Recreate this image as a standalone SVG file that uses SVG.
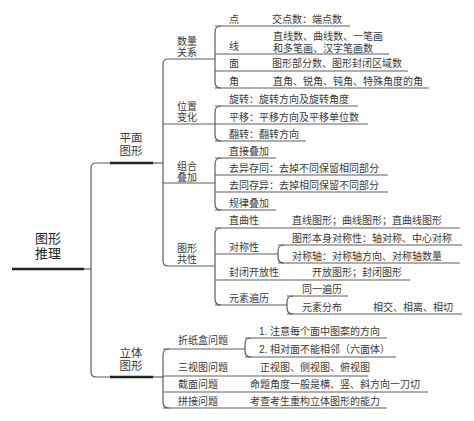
<svg xmlns="http://www.w3.org/2000/svg" width="474" height="421" viewBox="0 0 474 421">
<style>
text{font-family:"Liberation Sans","Noto Sans CJK SC",sans-serif;fill:#3a3a3a;font-size:10px}
.root{font-size:13px;fill:#222;text-anchor:middle}
.l1{font-size:11.5px;text-anchor:middle}
.l2{font-size:10px;text-anchor:middle}
.c{fill:none;stroke:#5e5e5e;stroke-width:1.2}
.ul{stroke:#5e5e5e;stroke-width:1.2}
.thick{stroke:#222;stroke-width:2.5}
</style>
<rect width="474" height="421" fill="#fff"/>
<g id="connectors">
<path class="c" d="M84,269H91"/>
<path class="c" d="M110,163H96Q91,163 91,168V372Q91,377 96,377H110"/>
<path class="c" d="M153,163H163"/>
<path class="c" d="M153,377H163"/>
<path class="c" d="M215,59H168Q163,59 163,64V261Q163,266 168,266H215"/>
<path class="c" d="M163,124H215M163,183H215"/>
<path class="c" d="M221,26Q215,26 215,32V82Q215,88 221,88"/>
<path class="c" d="M221,106Q215,106 215,112V135Q215,141 221,141"/>
<path class="c" d="M221,158Q215,158 215,164V204Q215,210 221,210"/>
<path class="c" d="M221,228Q215,228 215,234V299Q215,305 221,305"/>
<path class="c" d="M284,245Q278,245 278,251V257Q278,263 284,263"/>
<path class="c" d="M293,296Q287,296 287,302V308Q287,314 293,314"/>
<path class="c" d="M169,349Q163,349 163,355V402Q163,408 169,408"/>
<path class="c" d="M251,338Q245,338 245,344V351Q245,357 251,357"/>
</g>
<g id="root">
<line class="thick" x1="12" y1="269" x2="84" y2="269"/>
<text class="root" x="48" y="243">图形</text>
<text class="root" x="48" y="257.8">推理</text>
</g>
<g id="pingmian">
<line class="thick" x1="110" y1="163" x2="153" y2="163"/>
<text class="l1" x="131" y="141.5">平面</text>
<text class="l1" x="131" y="154.7">图形</text>
</g>
<g id="liti">
<line class="thick" x1="110" y1="377" x2="153" y2="377"/>
<text class="l1" x="131" y="356.5">立体</text>
<text class="l1" x="131" y="369.7">图形</text>
</g>
<g id="shuliang"><text class="l2" x="187" y="44.5">数量</text><text class="l2" x="187" y="56">关系</text></g>
<g id="dian"><line class="ul" x1="215" y1="26" x2="350" y2="26"/><text x="229" y="23">点</text><text x="272" y="23">交点数：端点数</text></g>
<g id="xian"><line class="ul" x1="215" y1="54" x2="389" y2="54"/><text x="229" y="50">线</text><text x="273" y="40.3">直线数、曲线数、一笔画</text><text x="273" y="51.8">和多笔画、汉字笔画数</text></g>
<g id="mian"><line class="ul" x1="215" y1="71" x2="408" y2="71"/><text x="229" y="67">面</text><text x="272" y="67">图形部分数、图形封闭区域数</text></g>
<g id="jiao"><line class="ul" x1="215" y1="88" x2="429" y2="88"/><text x="229" y="85">角</text><text x="273" y="85">直角、锐角、钝角、特殊角度的角</text></g>
<g id="weizhi"><text class="l2" x="187" y="109.8">位置</text><text class="l2" x="187" y="121.3">变化</text></g>
<g id="xuanzhuan"><line class="ul" x1="215" y1="106" x2="358" y2="106"/><text x="229" y="103">旋转：旋转方向及旋转角度</text></g>
<g id="pingyi"><line class="ul" x1="215" y1="124" x2="368" y2="124"/><text x="229" y="121">平移：平移方向及平移单位数</text></g>
<g id="fanzhuan"><line class="ul" x1="215" y1="141" x2="306" y2="141"/><text x="229" y="138">翻转：翻转方向</text></g>
<g id="zuhe"><text class="l2" x="187" y="169.8">组合</text><text class="l2" x="187" y="181.3">叠加</text></g>
<g id="zhijie"><line class="ul" x1="215" y1="158" x2="276" y2="158"/><text x="229" y="155">直接叠加</text></g>
<g id="quyi"><line class="ul" x1="215" y1="175" x2="388" y2="175"/><text x="229" y="172">去异存同：去掉不同保留相同部分</text></g>
<g id="qutong"><line class="ul" x1="215" y1="192" x2="388" y2="192"/><text x="229" y="189">去同存异：去掉相同保留不同部分</text></g>
<g id="guilv"><line class="ul" x1="215" y1="210" x2="276" y2="210"/><text x="229" y="207">规律叠加</text></g>
<g id="gongxing"><text class="l2" x="187" y="251.8">图形</text><text class="l2" x="187" y="263.3">共性</text></g>
<g id="zhiqu"><line class="ul" x1="215" y1="228" x2="460" y2="228"/><text x="229" y="224">直曲性</text><text x="292" y="224">直线图形；曲线图形；直曲线图形</text></g>
<g id="duicheng"><line class="ul" x1="215" y1="254" x2="278" y2="254"/><text x="229" y="251">对称性</text></g>
<g id="benshen"><line class="ul" x1="278" y1="245" x2="462" y2="245"/><text x="292" y="242">图形本身对称性：轴对称、中心对称</text></g>
<g id="duichengzhou"><line class="ul" x1="278" y1="263" x2="460" y2="263"/><text x="292" y="260">对称轴：对称轴方向、对称轴数量</text></g>
<g id="fengbi"><line class="ul" x1="215" y1="280" x2="410" y2="280"/><text x="229" y="276">封闭开放性</text><text x="312" y="276">开放图形；封闭图形</text></g>
<g id="yuansu"><line class="ul" x1="215" y1="305" x2="287" y2="305"/><text x="229" y="302">元素遍历</text></g>
<g id="tongyi"><line class="ul" x1="287" y1="296" x2="348" y2="296"/><text x="302" y="293">同一遍历</text></g>
<g id="fenbu"><line class="ul" x1="287" y1="314" x2="462" y2="314"/><text x="302" y="311">元素分布</text><text x="373" y="311">相交、相离、相切</text></g>
<g id="zhizhihe"><line class="ul" x1="163" y1="349" x2="245" y2="349"/><text x="178" y="344">折纸盒问题</text></g>
<g id="zhuyi"><line class="ul" x1="245" y1="338" x2="387" y2="338"/><text x="259" y="335">1. 注意每个面中图案的方向</text></g>
<g id="xiangdui"><line class="ul" x1="245" y1="357" x2="396" y2="357"/><text x="259" y="353">2. 相对面不能相邻（六面体）</text></g>
<g id="sanshitu"><line class="ul" x1="163" y1="376" x2="368" y2="376"/><text x="178" y="371">三视图问题</text><text x="260" y="371">正视图、侧视图、俯视图</text></g>
<g id="jiemian"><line class="ul" x1="163" y1="392" x2="428" y2="392"/><text x="178" y="388">截面问题</text><text x="250" y="388">命题角度一般是横、竖、斜方向一刀切</text></g>
<g id="pinjie"><line class="ul" x1="163" y1="408" x2="387" y2="408"/><text x="178" y="405">拼接问题</text><text x="250" y="405">考查考生重构立体图形的能力</text></g>
</svg>
